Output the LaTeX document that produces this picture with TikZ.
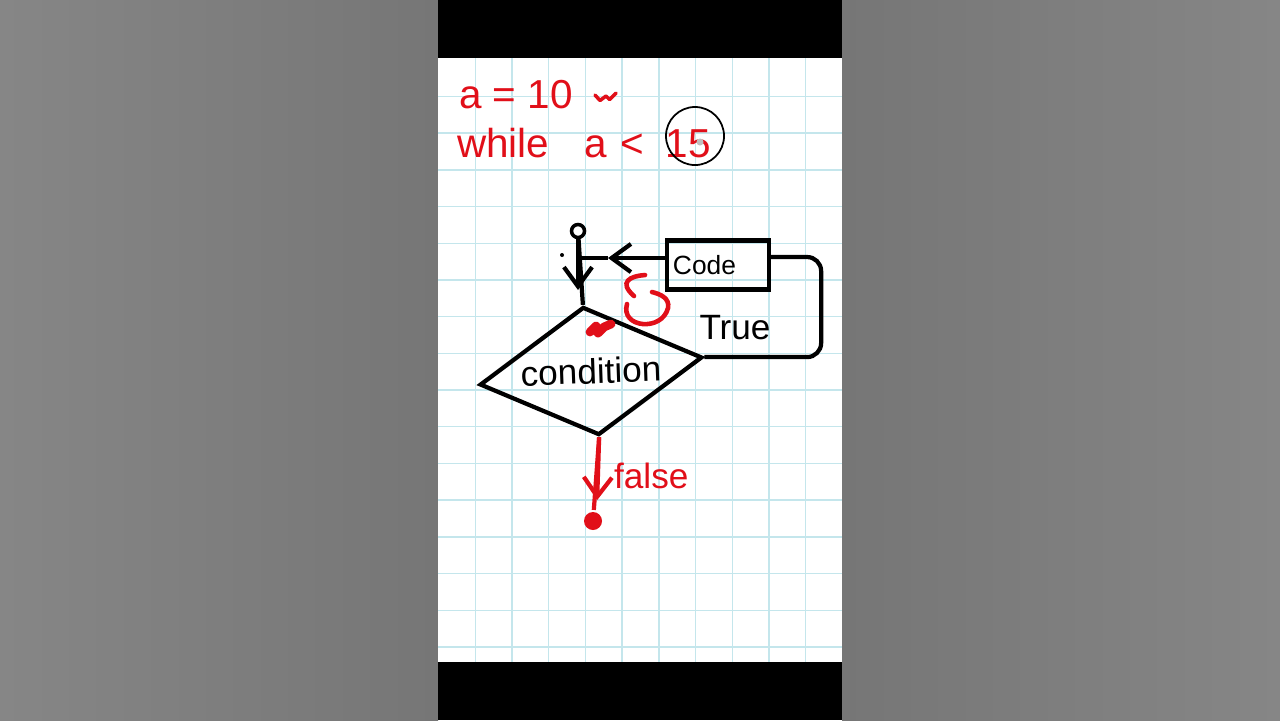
\documentclass[tikz,border=0pt]{standalone}
\usepackage{tikz}
\usepackage{xcolor}
\usepackage{fontspec}
\setmainfont{Liberation Sans}
\usetikzlibrary{shapes.geometric}
\usetikzlibrary{arrows.meta}

\definecolor{ink}{RGB}{225,15,25}
\definecolor{gridc}{RGB}{196,230,236}
\definecolor{bgl}{RGB}{134,134,134}
\definecolor{bgd}{RGB}{118,118,118}

\begin{document}
\begin{tikzpicture}[x=0.01cm,y=-0.01cm,line width=1.2pt,
    >={Straight Barb[length=5.5pt,width=8pt]},
    hand/.style={font=\fontsize{10}{12}\selectfont},
    big/.style={font=\fontsize{11.5}{14}\selectfont}]
  \useasboundingbox (0,0) rectangle (1280,720);
  \fill[left color=bgl,right color=bgd] (0,0) rectangle (438,720);
  \fill[left color=bgd,right color=bgl] (842,0) rectangle (1280,720);
  \fill[black] (438,0) rectangle (842,720);
  \fill[white] (438,58) rectangle (842,662);
  \foreach \k in {0,...,9}
    \draw[gridc,line width=0.4pt] (475.3+\k*36.7,58) -- ++(0,604);
  \foreach \k in {1,...,16}
    \draw[gridc,line width=0.4pt] (438,59.7+\k*36.7) -- ++(404,0);

  \node[ink,big,anchor=base west,inner sep=0pt] (l1) at (457,108) {a = 10};
  \node[ink,big,anchor=base west,inner sep=0pt] (l2) at (455,157)
    {while\hspace{10pt}a\hspace{4pt}<\hspace{6pt}15};
  \draw[ink,line width=1pt,line cap=round,line join=round]
    (595,95) -- (600,100.5) -- (606,96) -- (609.5,99.5) -- (616,93);
  \draw[line width=0.5pt] (695,136) circle (0.29cm);
  \fill[gray!50] (700,142) circle (0.035cm);

  \node[draw,circle,minimum size=0.13cm,inner sep=0pt,line width=1pt] (st) at (578,231) {};
  \node[draw,font=\fontsize{7.5}{9}\selectfont,align=left,text width=0.9cm,
    inner xsep=0.06cm,minimum height=0.49cm] (cb) at (718,265) {Code};
  \node[draw,diamond,aspect=1.8,minimum width=2.24cm,minimum height=1.29cm,
    inner sep=0pt,rotate=7,hand] (cnd) at (591,371) {\rotatebox{-5}{condition}};
  \node[circle,fill=ink,minimum size=0.18cm,inner sep=0pt] (fin) at (593,521) {};
  \node[hand] (tl) at (735,328) {True};
  \node[ink,hand,anchor=west,inner sep=0pt] (fl) at (612,476) {false};

  \path (st) +(0,59) coordinate (sa);
  \path (st) +(0,27) coordinate (jn);
  \path (jn) +(30,0) coordinate (ba);
  \path (node cs:name=cnd,anchor=south) +(-2,63) coordinate (fa);
  \draw (st) -- (cnd.north);
  \draw[->] (st) -- (sa);
  \draw[->] (jn -| cb.west) -- (ba);
  \draw (ba) -- (jn);
  \draw[rounded corners=4pt] (cb.east) ++(0,-8) -- ++(50,0) |- (cnd.east);
  \draw[ink] (cnd.south) -- (fin);
  \draw[ink,->] (cnd.south) -- (fa);

  \fill (562,255) circle (0.02cm);
  \draw[ink,line width=1.3pt,line cap=round]
    (645,275) .. controls (630,276) and (618,282) .. (634,296);
  \draw[ink,line width=1.3pt,line cap=round]
    (627,304) .. controls (620,328) and (662,332) .. (668,308)
    .. controls (670,298) and (660,294) .. (652,292);
  \draw[ink,line width=2.5pt,line cap=round,line join=round]
    (590,332) -- (596,326) -- (598,333) -- (604,327) -- (611,324);
\end{tikzpicture}
\end{document}
